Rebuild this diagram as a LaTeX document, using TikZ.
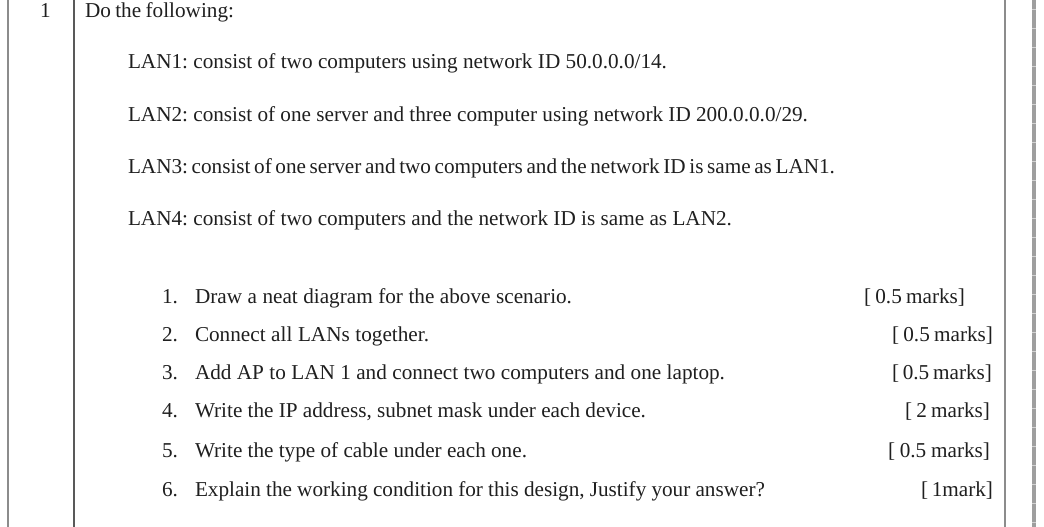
\documentclass[tikz,border=0pt]{standalone}
\usepackage{fontspec}
\setmainfont{Liberation Serif}
\hbadness=10000 \hfuzz=20pt
\newcommand{\fitline}[2]{\hbox to #1pt{\frenchspacing\spaceskip=4.5pt plus 20pt minus 4pt\relax #2}}
\begin{document}
\begin{tikzpicture}[x=1pt,y=-1pt,
  txt/.style={anchor=base west,inner sep=0pt,outer sep=0pt,font=\fontsize{21.2}{24}\selectfont,text=black!88},
  rule/.style={line width=1.3pt,draw=black!45},
  ruledark/.style={line width=1.3pt,draw=black!65}]
\useasboundingbox (0,0) rectangle (1044,527);
\fill[white] (0,0) rectangle (1044,527);
\draw[rule] (8,0) -- (8,527);
\draw[ruledark] (74,0) -- (74,527);
\draw[rule] (1005,0) -- (1005,527);
\fill[black!38] (1032,0) rectangle (1036,527);
\foreach \y in {9,28,47,66,85,104,123,142,161,180,199,218,237,256,275,294,313,332,351,370,389,408,427,446,465,484,503,522}
  \draw[black!18,line width=.5pt] (1032,\y) -- (1036,\y);
\node[txt] (n) at (40,18) {1};
\node[txt] (t0) at (85,18) {\fitline{149}{Do the following:}};
\node[txt] (l1) at (128,69) {\fitline{539}{LAN1: consist of two computers using network ID 50.0.0.0/14.}};
\node[txt] (l2) at (128,121) {\fitline{680}{LAN2: consist of one server and three computer using network ID 200.0.0.0/29.}};
\node[txt] (l3) at (128,173) {\fitline{707}{LAN3: consist of one server and two computers and the network ID is same as LAN1.}};
\node[txt] (l4) at (128,225) {\fitline{604}{LAN4: consist of two computers and the network ID is same as LAN2.}};
\node[txt] (a1) at (162,303) {1.};
\node[txt] (b1) at (195,303) {\fitline{377}{Draw a neat diagram for the above scenario.}};
\node[txt] (c1) at (864,303) {\fitline{101}{[ 0.5 marks]}};
\node[txt] (a2) at (162,341) {2.};
\node[txt] (b2) at (195,341) {\fitline{234}{Connect all LANs together.}};
\node[txt] (c2) at (892,341) {\fitline{101}{[ 0.5 marks]}};
\node[txt] (a3) at (162,379) {3.};
\node[txt] (b3) at (195,379) {\fitline{530}{Add AP to LAN 1 and connect two computers and one laptop.}};
\node[txt] (c3) at (892,379) {\fitline{100}{[ 0.5 marks]}};
\node[txt] (a4) at (162,417) {4.};
\node[txt] (b4) at (195,417) {\fitline{451}{Write the IP address, subnet mask under each device.}};
\node[txt] (c4) at (905,417) {\fitline{85}{[ 2 marks]}};
\node[txt] (a5) at (162,457) {5.};
\node[txt] (b5) at (195,457) {\fitline{332}{Write the type of cable under each one.}};
\node[txt] (c5) at (888,457) {\fitline{102}{[ 0.5 marks]}};
\node[txt] (a6) at (162,496) {6.};
\node[txt] (b6) at (195,496) {\fitline{570}{Explain the working condition for this design, Justify your answer?}};
\node[txt] (c6) at (921,496) {\fitline{72}{[ 1mark]}};
\end{tikzpicture}
\end{document}
